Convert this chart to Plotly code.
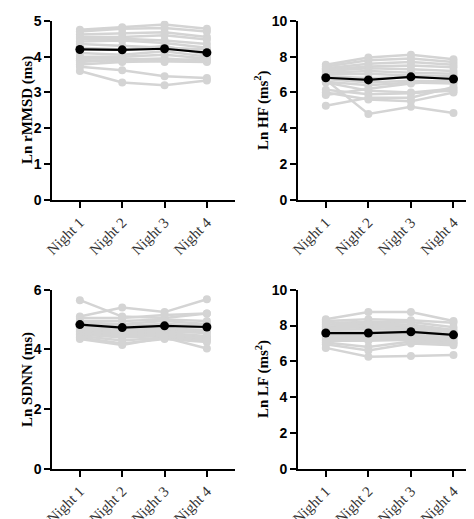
import plotly.graph_objects as go

nights = ['Night 1', 'Night 2', 'Night 3', 'Night 4']

# individual subjects, one list per subject (Night 1..4)
rmssd = [
    [4.75, 4.82, 4.90, 4.78], [4.70, 4.78, 4.80, 4.70], [4.62, 4.65, 4.68, 4.55],
    [4.55, 4.55, 4.60, 4.48], [4.50, 4.50, 4.45, 4.35], [4.42, 4.45, 4.38, 4.25],
    [4.35, 4.30, 4.25, 4.20], [4.25, 4.20, 4.30, 4.05], [4.10, 4.05, 4.15, 4.00],
    [4.00, 4.00, 4.05, 3.95], [3.95, 3.95, 3.90, 3.90], [3.90, 3.88, 3.85, 3.85],
    [3.85, 3.92, 3.95, 3.88], [3.78, 3.85, 3.88, 3.95], [3.72, 3.62, 3.45, 3.40],
    [3.60, 3.28, 3.20, 3.33],
]
rmssd_mean = [4.20, 4.19, 4.22, 4.11]

hf = [
    [7.55, 7.95, 8.10, 7.85], [7.45, 7.80, 7.90, 7.70], [7.35, 7.60, 7.70, 7.55],
    [7.30, 7.45, 7.50, 7.40], [7.20, 7.35, 7.30, 7.20], [7.10, 7.20, 7.10, 7.05],
    [7.00, 7.05, 6.95, 6.90], [6.90, 6.80, 6.85, 6.80], [6.75, 6.55, 6.65, 6.60],
    [6.60, 6.40, 6.55, 6.50], [6.55, 6.10, 6.00, 6.20], [6.15, 5.90, 5.95, 6.10],
    [6.00, 5.60, 5.50, 6.00], [5.85, 6.20, 6.50, 6.70], [5.25, 5.70, 5.70, 6.30],
    [6.70, 4.80, 5.20, 4.85],
]
hf_mean = [6.82, 6.70, 6.87, 6.75]

sdnn = [
    [5.65, 5.10, 5.05, 5.20], [5.10, 5.40, 5.25, 5.68], [5.05, 5.05, 5.15, 5.20],
    [4.95, 4.95, 5.00, 4.95], [4.90, 4.85, 4.95, 4.85], [4.85, 4.80, 4.85, 4.80],
    [4.80, 4.70, 4.78, 4.75], [4.75, 4.65, 4.70, 4.65], [4.70, 4.60, 4.65, 4.60],
    [4.65, 4.55, 4.60, 4.55], [4.60, 4.50, 4.55, 4.45], [4.55, 4.45, 4.50, 4.40],
    [4.50, 4.40, 4.45, 4.35], [4.45, 4.30, 4.40, 4.30], [4.40, 4.20, 4.35, 4.25],
    [4.35, 4.15, 4.40, 4.03],
]
sdnn_mean = [4.83, 4.73, 4.79, 4.75]

lf = [
    [8.35, 8.75, 8.75, 8.25], [8.25, 8.35, 8.30, 8.15], [8.15, 8.20, 8.20, 7.90],
    [8.05, 8.10, 8.05, 7.75], [7.95, 8.00, 7.95, 7.65], [7.85, 7.90, 7.85, 7.55],
    [7.75, 7.80, 7.75, 7.50], [7.65, 7.65, 7.65, 7.45], [7.55, 7.50, 7.55, 7.40],
    [7.45, 7.40, 7.45, 7.35], [7.35, 7.30, 7.40, 7.25], [7.25, 7.20, 7.30, 7.15],
    [7.15, 7.15, 7.20, 7.05], [7.05, 6.80, 7.10, 7.00], [6.95, 6.60, 7.00, 6.90],
    [6.75, 6.25, 6.30, 6.35],
]
lf_mean = [7.58, 7.58, 7.65, 7.48]

W, H = 474, 519

# (data, mean, title, y max, y dtick, x domain px, y top px, y bottom px, title x px)
panels = [
    (rmssd, rmssd_mean, 'Ln rMMSD (ms)', 5, 1, (37, 223), 5, 190, 11),
    (hf, hf_mean, 'Ln HF (ms<sup>2</sup>)', 10, 2, (287, 474), 5, 190, 250),
    (sdnn, sdnn_mean, 'Ln SDNN (ms)', 6, 2, (37, 223), 283, 468, 11),
    (lf, lf_mean, 'Ln LF (ms<sup>2</sup>)', 10, 2, (287, 474), 283, 468, 250),
]

fig = go.Figure()
layout = {}
annotations = []

for i, (subjects, mean, title, ymax, dtick, xpx, ytop, ybot, tx) in enumerate(panels):
    n = '' if i == 0 else str(i + 1)
    xa, ya = 'x' + n, 'y' + n
    for s in subjects:
        fig.add_trace(go.Scatter(
            x=nights, y=s, xaxis=xa, yaxis=ya, mode='lines+markers',
            line=dict(color='#d4d4d4', width=2.5),
            marker=dict(color='#d4d4d4', size=8),
            showlegend=False, hoverinfo='skip'
        ))
    fig.add_trace(go.Scatter(
        x=nights, y=mean, xaxis=xa, yaxis=ya, mode='lines+markers',
        line=dict(color='black', width=2.2),
        marker=dict(color='black', size=9),
        showlegend=False
    ))
    layout['xaxis' + n] = dict(
        domain=[xpx[0] / W, min(xpx[1] / W, 1)], anchor=ya,
        range=[-0.65, 3.67], showline=True, linecolor='black', linewidth=2,
        ticks='outside', ticklen=6, tickwidth=2, tickcolor='black',
        tickangle=-45, showgrid=False, zeroline=False,
        tickfont=dict(family='Liberation Serif', size=15, color='#333333')
    )
    layout['yaxis' + n] = dict(
        domain=[1 - ybot / H, 1 - ytop / H], anchor=xa,
        range=[0, ymax], dtick=dtick, showline=True, linecolor='black',
        linewidth=2, ticks='outside', ticklen=6, tickwidth=2,
        tickcolor='black', showgrid=False, zeroline=False,
        tickfont=dict(family='Liberation Sans', size=14, color='black', weight='bold')
    )
    annotations.append(dict(
        text=title, xref='paper', yref='paper', x=tx / W,
        y=1 - (ytop + ybot) / 2 / H, textangle=-90, showarrow=False,
        xanchor='center', yanchor='middle',
        font=dict(family='Liberation Serif', size=15, color='black', weight='bold')
    ))

fig.update_layout(
    width=W, height=H, margin=dict(l=0, r=0, t=0, b=0),
    plot_bgcolor='white', paper_bgcolor='white',
    annotations=annotations, **layout
)

fig.write_html("out.html")
